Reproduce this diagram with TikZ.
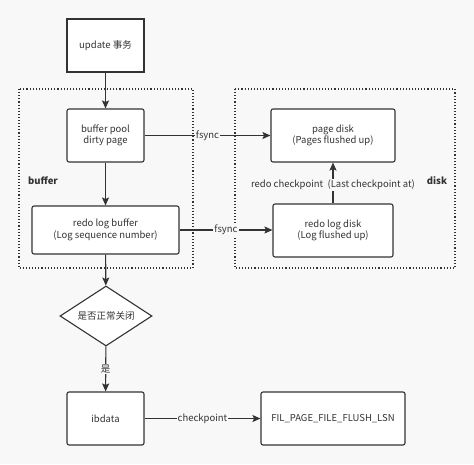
\documentclass[tikz,border=0pt]{standalone}
\usepackage{fontspec}
\setmainfont{Noto Sans CJK SC}
\usepackage{xcolor}
\definecolor{ink}{HTML}{333333}
\definecolor{canvas}{HTML}{F8F8F8}
\usetikzlibrary{positioning,arrows.meta,shapes.geometric}

\begin{document}
\begin{tikzpicture}[x=1pt, y=-1pt, font=\fontsize{9.5}{11.5}\selectfont, text=ink,
  box/.style={draw=ink, line width=1.1pt, fill=white, rounded corners=2pt, align=center, minimum width=77pt, minimum height=53pt, inner sep=1pt},
  frame/.style={draw=ink, line width=1.1pt, dotted},
  decide/.style={diamond, draw=ink, line width=1.1pt, fill=white, aspect=1.5, minimum width=92pt, minimum height=60pt, inner sep=0pt},
  tag/.style={fill=canvas, inner sep=1pt},
  arr/.style={-{Stealth[length=8pt, width=7pt, inset=1.5pt]}, line width=1.1pt, draw=ink}]
  % canvas
  \fill[canvas] (0,0) rectangle (474,464);
  \useasboundingbox (0,0) rectangle (474,464);
  % regions
  \draw[frame] (19,89) rectangle (193,268);
  \draw[frame] (235,89) rectangle (455,268);
  \node[font=\fontsize{9.5}{11.5}\selectfont\bfseries] (bufname) at (43,181) {buffer};
  \node[font=\fontsize{9.5}{11.5}\selectfont\bfseries] (diskname) at (437,181) {disk};
  % nodes
  \node[box, rounded corners=0pt] (upd) at (105.5,45.5) {update 事务};
  \node[box] (pool) at (105.5,135.5) {buffer pool\\dirty page};
  \node[box, minimum width=147pt, minimum height=48pt] (logbuf) at (105.5,230) {redo log buffer\\(Log sequence number)};
  \node[box, minimum width=124pt] (pagedisk) at (333,135.5) {page disk\\(Pages flushed up)};
  \node[box, minimum width=120pt] (logdisk) at (333,230.5) {redo log disk\\(Log flushed up)};
  \node[decide] (shut) at (106,316) {是否正常关闭};
  \node[box] (ibd) at (105.5,418.5) {ibdata};
  \node[box, minimum width=144pt] (lsn) at (333,418.5) {FIL\_PAGE\_FILE\_FLUSH\_LSN};
  % connectors
  \draw[arr] (upd) -- (pool);
  \draw[arr] (pool) -- (logbuf);
  \draw[arr] (pool) -- node[tag] {fsync} (pagedisk);
  \draw[arr] (logbuf.east) -- node[tag] {fsync} (logbuf.east -| logdisk.west);
  \draw[arr] (logdisk) -- node[tag, pos=0.45] {redo checkpoint~~(Last checkpoint at)} (pagedisk);
  \draw[arr] (logbuf) -- (shut);
  \draw[arr] (shut) -- node[tag] {是} (ibd);
  \draw[arr] (ibd) -- node[tag] {checkpoint} (lsn);
\end{tikzpicture}
\end{document}
